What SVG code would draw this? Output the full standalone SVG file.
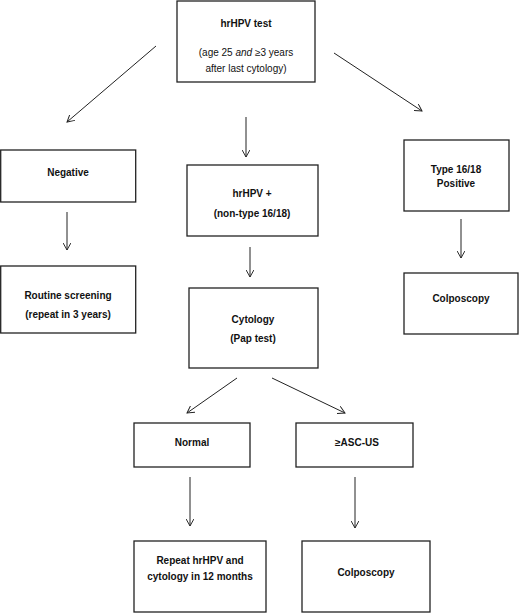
<svg xmlns="http://www.w3.org/2000/svg" width="520" height="613" viewBox="0 0 520 613">
<style>
.box{fill:#fff;stroke:#222;stroke-width:1.3}
.t{font-family:"Liberation Sans",Arial,sans-serif;font-size:10px;font-weight:bold;fill:#111;text-anchor:middle}
.n{font-weight:normal}
.c line{stroke:#222;stroke-width:1;fill:none;marker-end:url(#a)}
</style>
<defs>
<marker id="a" viewBox="0 0 10 10" refX="9" refY="5" markerWidth="8" markerHeight="8" markerUnits="userSpaceOnUse" orient="auto">
<path d="M0,0 L9,5 L0,10" fill="none" stroke="#222" stroke-width="1.2"/>
</marker>
</defs>
<rect width="520" height="613" fill="#fff"/>
<g id="n-top"><rect class="box" x="177" y="1" width="138" height="81"/>
<text class="t" x="246" y="27">hrHPV test</text>
<text class="t n" x="246" y="56">(age 25 <tspan font-style="italic">and</tspan> ≥3 years</text>
<text class="t n" x="246" y="72">after last cytology)</text></g>
<g id="n-neg"><rect class="box" x="0.7" y="150" width="135" height="52"/>
<text class="t" x="68" y="176">Negative</text></g>
<g id="n-routine"><rect class="box" x="0.7" y="266" width="135" height="67"/>
<text class="t" x="68" y="299">Routine screening</text>
<text class="t" x="68" y="318">(repeat in 3 years)</text></g>
<g id="n-hrhpv"><rect class="box" x="187" y="165" width="131" height="71"/>
<text class="t" x="252" y="197">hrHPV +</text>
<text class="t" x="252" y="217">(non-type 16/18)</text></g>
<g id="n-type"><rect class="box" x="404" y="140" width="105" height="71"/>
<text class="t" x="456" y="173">Type 16/18</text>
<text class="t" x="456" y="187">Positive</text></g>
<g id="n-colpo1"><rect class="box" x="404" y="273" width="114" height="61"/>
<text class="t" x="461" y="302">Colposcopy</text></g>
<g id="n-cyto"><rect class="box" x="189" y="288" width="129" height="80"/>
<text class="t" x="253" y="323">Cytology</text>
<text class="t" x="253" y="342">(Pap test)</text></g>
<g id="n-normal"><rect class="box" x="134" y="423" width="116" height="44"/>
<text class="t" x="192" y="446">Normal</text></g>
<g id="n-asc"><rect class="box" x="296" y="423" width="117" height="44"/>
<text class="t" x="357" y="446">≥ASC-US</text></g>
<g id="n-repeat"><rect class="box" x="134" y="541" width="132" height="71"/>
<text class="t" x="200" y="564">Repeat hrHPV and</text>
<text class="t" x="200" y="580">cytology in 12 months</text></g>
<g id="n-colpo2"><rect class="box" x="302" y="541" width="128" height="71"/>
<text class="t" x="366" y="576">Colposcopy</text></g>
<g id="connectors" class="c">
<line x1="156" y1="46" x2="67" y2="122"/>
<line x1="246" y1="117" x2="246" y2="157"/>
<line x1="334" y1="53" x2="422" y2="111"/>
<line x1="67" y1="212" x2="67" y2="250"/>
<line x1="461" y1="219" x2="461" y2="258"/>
<line x1="250" y1="247" x2="250" y2="277"/>
<line x1="237" y1="378" x2="187" y2="413"/>
<line x1="272" y1="378" x2="345" y2="413"/>
<line x1="190" y1="477" x2="190" y2="526"/>
<line x1="355" y1="477" x2="355" y2="528"/>
</g>
</svg>
